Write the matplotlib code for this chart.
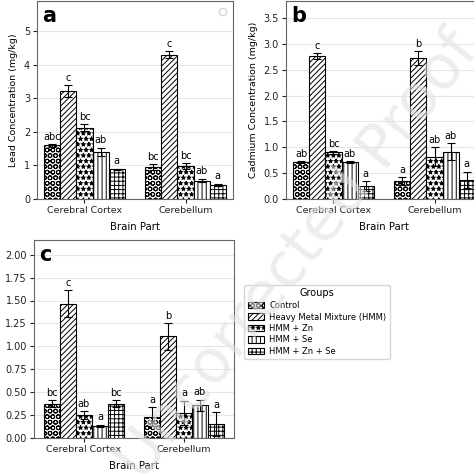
import numpy as np
import matplotlib
matplotlib.use("Agg")
import matplotlib.pyplot as plt
from matplotlib.patches import Patch

parts = ["Cerebral Cortex", "Cerebellum"]
groups = ["Control", "Heavy Metal Mixture (HMM)", "HMM + Zn", "HMM + Se", "HMM + Zn + Se"]
hatches = ["OOO", "//////", "***", "||||", "++++"]

# lead (panel a)
lead_mean = [[1.60, 0.95], [3.22, 4.30], [2.13, 0.98], [1.40, 0.55], [0.88, 0.42]]
lead_err = [[0.04, 0.08], [0.18, 0.10], [0.10, 0.08], [0.13, 0.05], [0.02, 0.04]]
lead_sig = [["abc", "bc"], ["c", "c"], ["bc", "bc"], ["ab", "ab"], ["a", "a"]]

# cadmium (panel b)
cd_mean = [[0.71, 0.35], [2.76, 2.73], [0.90, 0.82], [0.71, 0.915], [0.25, 0.37]]
cd_err = [[0.02, 0.07], [0.06, 0.13], [0.02, 0.18], [0.02, 0.16], [0.10, 0.16]]
cd_sig = [["ab", "a"], ["c", "b"], ["bc", "ab"], ["ab", "ab"], ["a", "a"]]

# panel c
c_mean = [[0.375, 0.233], [1.465, 1.11], [0.25, 0.277], [0.13, 0.36], [0.375, 0.15]]
c_err = [[0.04, 0.10], [0.15, 0.145], [0.04, 0.13], [0.015, 0.06], [0.04, 0.13]]
c_sig = [["bc", "a"], ["c", "b"], ["ab", "a"], ["a", "ab"], ["bc", "a"]]

plt.rcParams["hatch.linewidth"] = 0.7
plt.rcParams["font.family"] = "DejaVu Sans"

fig = plt.figure(figsize=(4.74, 4.74), dpi=100)
W = 474.0


def px_axes(l, r, t, b):
    return fig.add_axes([l / W, (W - b) / W, (r - l) / W, (b - t) / W])


def draw(ax, means, errs, sigs, ylim, yticks, fmt, letter, ylabel=None, off=0.012):
    x = np.arange(len(parts))
    bw = 0.16
    for i, g in enumerate(groups):
        xs = x - 0.4 + bw * (i + 0.5)
        ax.bar(xs, means[i], bw, yerr=errs[i], color="white", edgecolor="black",
               linewidth=0.8, hatch=hatches[i], capsize=3, zorder=3,
               error_kw=dict(elinewidth=0.8, capthick=0.8, ecolor="black"))
        for k in range(len(parts)):
            ax.text(xs[k], means[i][k] + errs[i][k] + off * ylim[1], sigs[i][k],
                    ha="center", va="bottom", fontsize=7, zorder=4)
    ax.set_ylim(*ylim)
    ax.set_yticks(yticks)
    ax.set_yticklabels([fmt.format(v) for v in yticks], fontsize=7)
    ax.set_xticks(x)
    ax.set_xticklabels(parts, fontsize=6.8)
    ax.set_xlabel("Brain Part", fontsize=7.3, labelpad=5)
    if ylabel:
        ax.set_ylabel(ylabel, fontsize=6.8)
    ax.grid(axis="y", color="#e6e6e6", linewidth=0.8, zorder=0)
    ax.set_axisbelow(True)
    for s in ax.spines.values():
        s.set_color("#666666")
    ax.tick_params(length=3, pad=2, colors="#222222")
    ax.text(0.025, 0.975, letter, transform=ax.transAxes, fontsize=15,
            fontweight="bold", va="top", ha="left", zorder=5)


ax_a = px_axes(37, 233, 1, 199)
draw(ax_a, lead_mean, lead_err, lead_sig, (0, 5.9), [0, 1, 2, 3, 4, 5], "{:d}",
     "a", "Lead Concentration (mg/kg)")
ax_a.set_xlim(-0.47, 1.47)
leg = ax_a.legend(handles=[], loc="upper right", borderpad=0.25)
leg.get_frame().set_edgecolor("#cccccc")

ax_b = px_axes(286, 482, 1, 199)
draw(ax_b, cd_mean, cd_err, cd_sig, (0, 3.83), list(np.arange(0, 3.51, 0.5)), "{:.1f}",
     "b", "Cadmium Concentration (mg/kg)")
ax_b.set_xlim(-0.47, 1.47)

ax_c = px_axes(34, 234, 240, 438)
draw(ax_c, c_mean, c_err, c_sig, (0, 2.16), list(np.arange(0, 2.01, 0.25)), "{:.2f}",
     "c")
ax_c.set_xlim(-0.5, 1.5)

handles = [Patch(facecolor="white", edgecolor="black", hatch=h, linewidth=0.8) for h in hatches]
fig.legend(handles, groups, title="Groups", loc="upper left",
           bbox_to_anchor=(240 / W, 1 - 281 / W), fontsize=6, title_fontsize=7,
           frameon=True, edgecolor="#cccccc", handlelength=2.0, handleheight=0.8,
           labelspacing=0.3, borderpad=0.4, handletextpad=0.6)

fig.text(0.63, 0.46, "Uncorrected Proof", fontsize=44, color="#e2e2e2", alpha=0.6,
         rotation=52, ha="center", va="center", zorder=10)

fig.savefig("out.png", dpi=100)
